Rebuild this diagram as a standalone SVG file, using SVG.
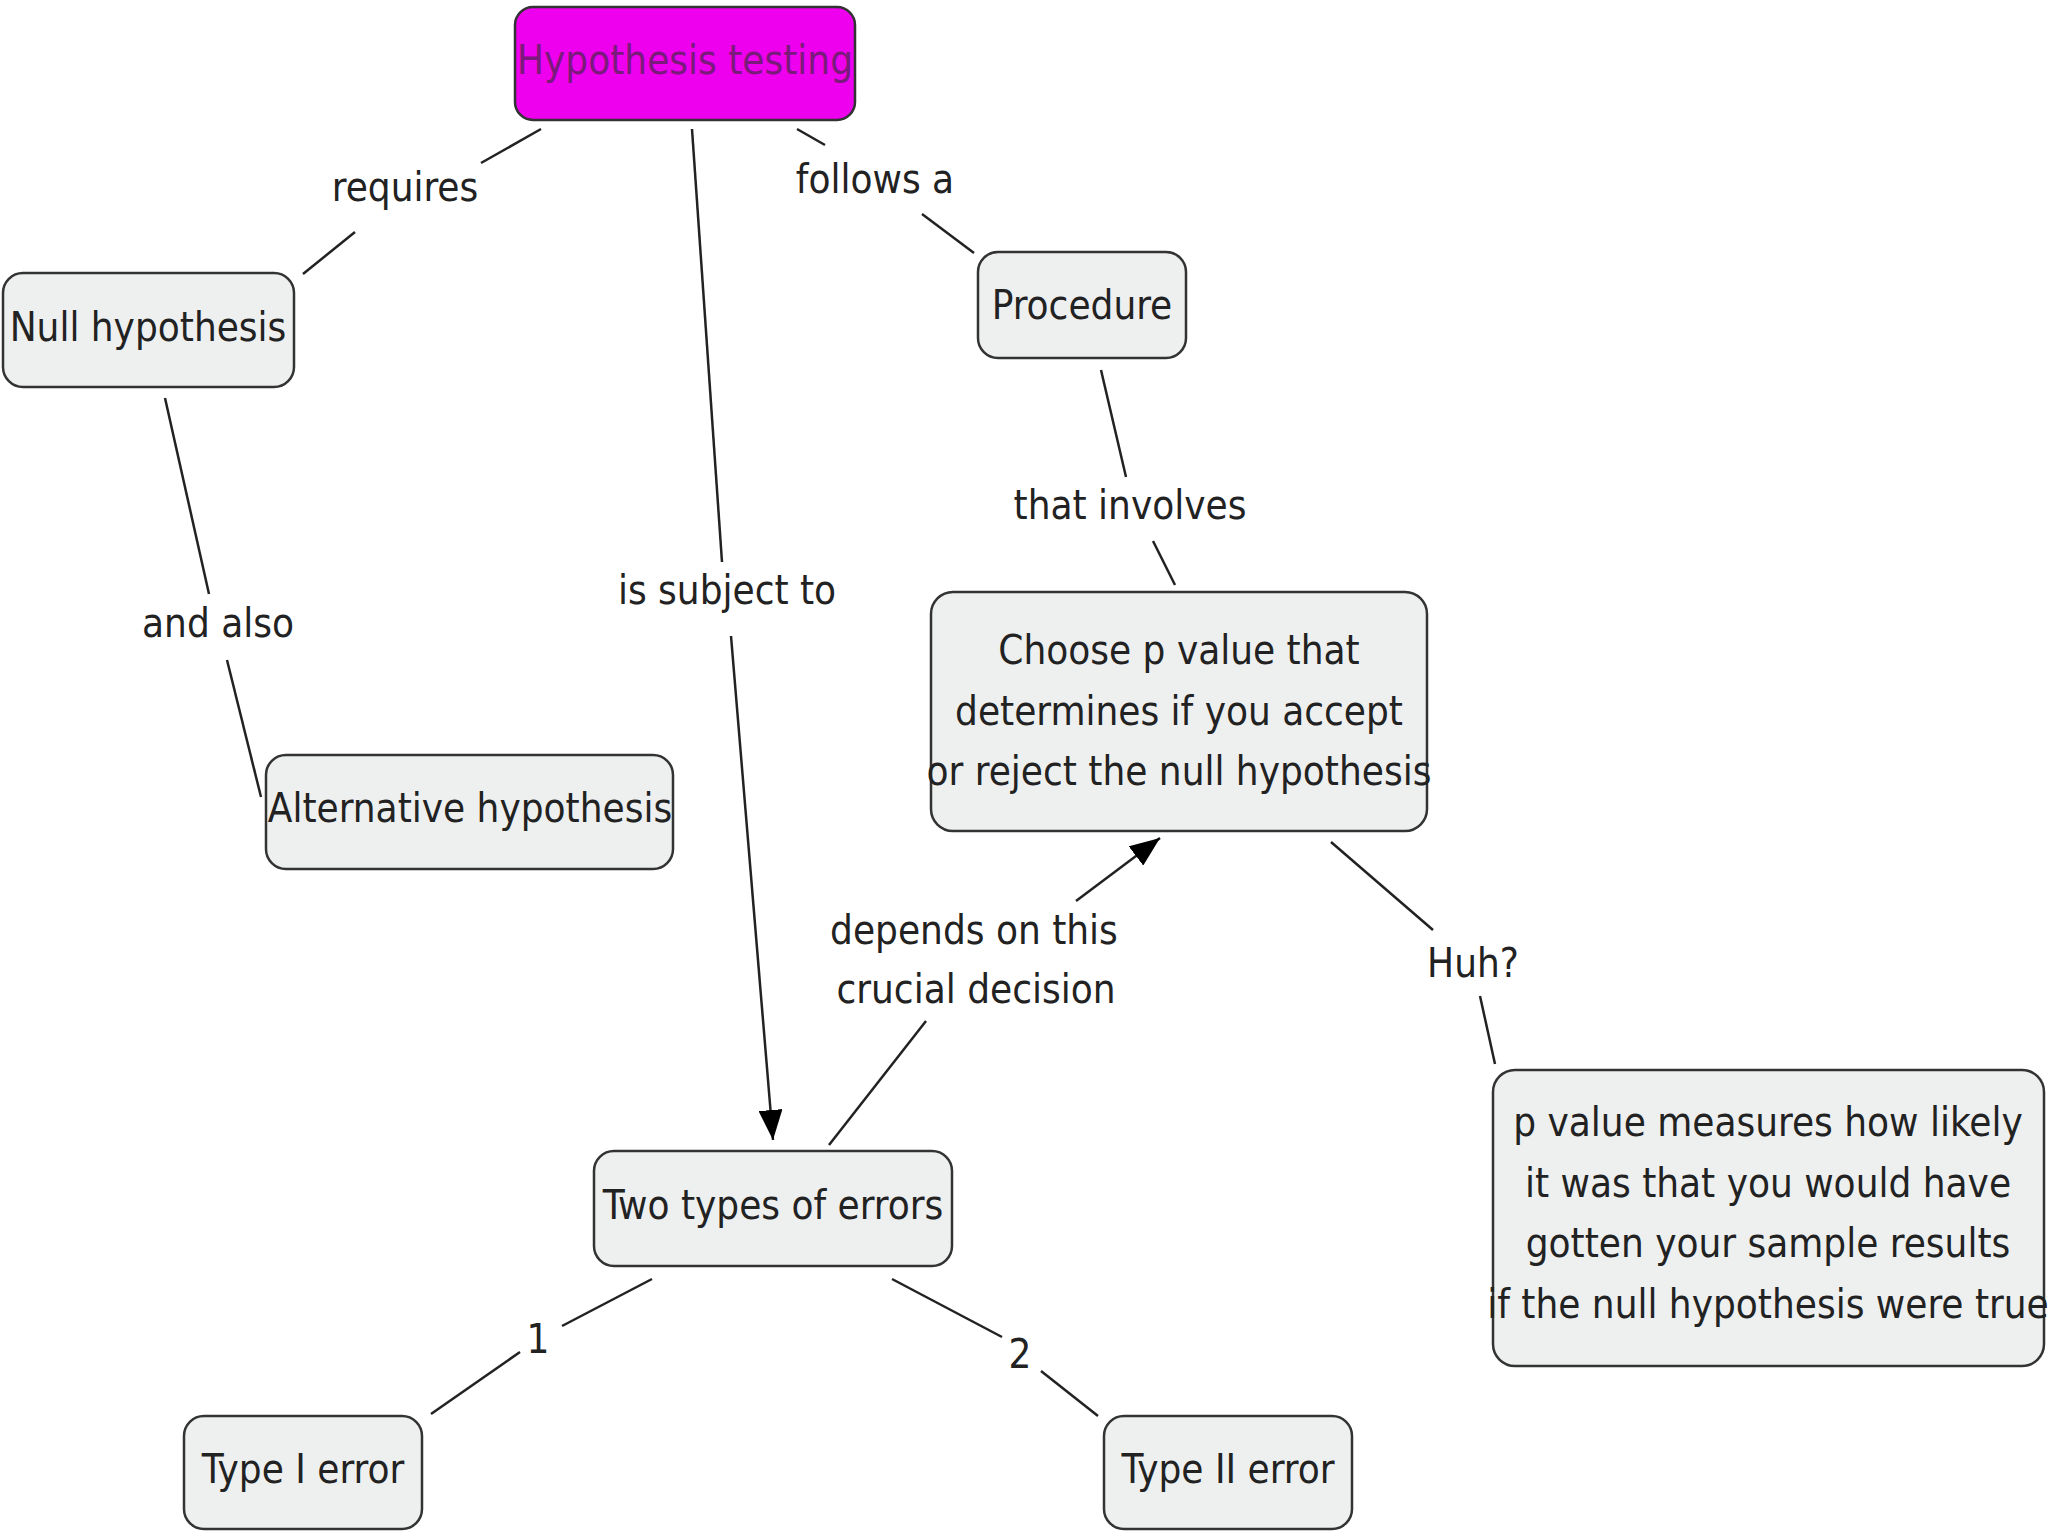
<svg xmlns="http://www.w3.org/2000/svg" width="2048" height="1536" viewBox="0 0 2048 1536">
<style>
.n{fill:#eef0f0;stroke:#333;stroke-width:2.5}
text{font-family:"DejaVu Sans Condensed","DejaVu Sans",sans-serif;font-size:40px;fill:#222;text-anchor:middle;dominant-baseline:central}
.c line{stroke:#222;stroke-width:2.5}
</style>
<defs><marker id="a" viewBox="0 0 10 10" refX="9" refY="5" markerWidth="9" markerHeight="9" orient="auto" markerUnits="userSpaceOnUse"><path d="M0,0L10,5L0,10z" fill="#000" transform="scale(3.2) translate(-7,-3.4)"/></marker>
<marker id="b" viewBox="0 0 30 24" refX="30" refY="12" markerWidth="30" markerHeight="24" orient="auto" markerUnits="userSpaceOnUse"><path d="M0,0L30,12L0,24z" fill="#000"/></marker></defs>
<rect width="2048" height="1536" fill="#fff"/>
<g class="c">
<line x1="541" y1="129" x2="481" y2="163"/><line x1="355" y1="232" x2="303" y2="274"/>
<line x1="797" y1="129" x2="825" y2="145"/><line x1="922" y1="214" x2="974" y2="253"/>
<line x1="692" y1="129" x2="722" y2="562"/><line x1="731" y1="636" x2="773" y2="1140" marker-end="url(#b)"/>
<line x1="1101" y1="370" x2="1126" y2="477"/><line x1="1153" y1="541" x2="1175" y2="585"/>
<line x1="165" y1="398" x2="209" y2="594"/><line x1="227" y1="660" x2="261" y2="797"/>
<line x1="829" y1="1145" x2="926" y2="1021"/><line x1="1076" y1="901" x2="1160" y2="838" marker-end="url(#b)"/>
<line x1="1331" y1="842" x2="1433" y2="930"/><line x1="1480" y1="996" x2="1495" y2="1064"/>
<line x1="652" y1="1279" x2="562" y2="1326"/><line x1="520" y1="1352" x2="431" y2="1414"/>
<line x1="892" y1="1279" x2="1002" y2="1337"/><line x1="1041" y1="1371" x2="1098" y2="1416"/>
<text x="405" y="187">requires</text><text x="875" y="179">follows a</text>
<text x="727" y="590">is subject to</text><text x="1130" y="505">that involves</text>
<text x="218" y="623">and also</text><text x="974" y="930">depends on this</text><text x="976" y="989">crucial decision</text>
<text x="1473" y="963">Huh?</text><text x="538" y="1339">1</text><text x="1020" y="1354">2</text>
</g>
<g id="hyp"><rect x="515" y="7" width="340" height="113" rx="18" fill="#ee00ee" stroke="#333" stroke-width="2.5"/><text x="685" y="60" fill="#800080" style="fill:#7a1a7a">Hypothesis testing</text></g>
<g id="null"><rect class="n" x="3" y="273" width="291" height="114" rx="20"/><text x="148" y="327">Null hypothesis</text></g>
<g id="proc"><rect class="n" x="978" y="252" width="208" height="106" rx="20"/><text x="1082" y="305">Procedure</text></g>
<g id="choose"><rect class="n" x="931" y="592" width="496" height="239" rx="22"/><text x="1179" y="650">Choose p value that</text><text x="1179" y="711">determines if you accept</text><text x="1179" y="771">or reject the null hypothesis</text></g>
<g id="alt"><rect class="n" x="266" y="755" width="407" height="114" rx="20"/><text x="470" y="808">Alternative hypothesis</text></g>
<g id="two"><rect class="n" x="594" y="1151" width="358" height="115" rx="20"/><text x="773" y="1205">Two types of errors</text></g>
<g id="pval"><rect class="n" x="1493" y="1070" width="551" height="296" rx="22"/><text x="1768" y="1122">p value measures how likely</text><text x="1768" y="1183">it was that you would have</text><text x="1768" y="1243">gotten your sample results</text><text x="1768" y="1304">if the null hypothesis were true</text></g>
<g id="t1"><rect class="n" x="184" y="1416" width="238" height="113" rx="20"/><text x="303" y="1469">Type I error</text></g>
<g id="t2"><rect class="n" x="1104" y="1416" width="248" height="113" rx="20"/><text x="1228" y="1469">Type II error</text></g>
</svg>
